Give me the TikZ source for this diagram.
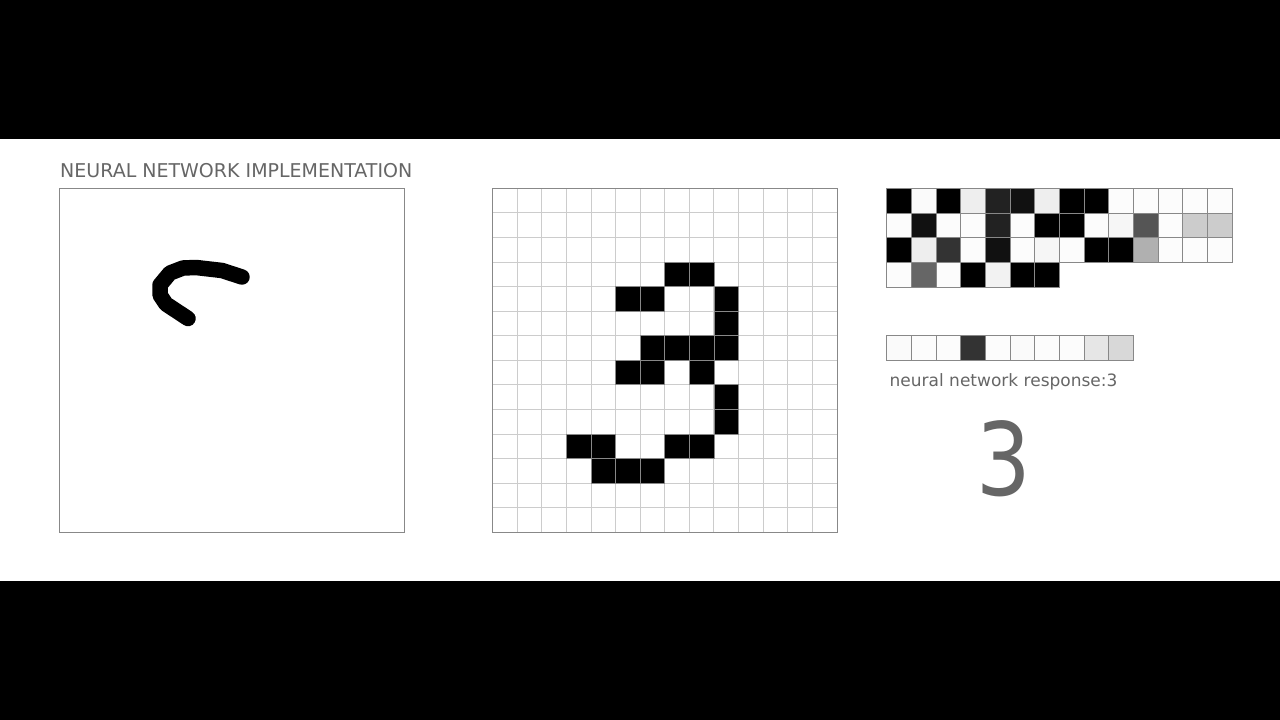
\documentclass[tikz,border=0pt]{standalone}
\usepackage{fontspec}
\setmainfont{DejaVu Sans}
\definecolor{txtgray}{HTML}{666666}
\definecolor{gridline}{HTML}{CCCCCC}
\definecolor{framegray}{HTML}{888888}
\begin{document}
\begin{tikzpicture}[x=1pt,y=-1pt,
  frame/.style={draw=framegray,line width=1pt},
  gline/.style={draw=gridline,line width=1pt},
  cellbox/.style={draw=framegray,line width=0.9pt},
  pen/.style={line width=15.5pt,line cap=round,line join=round},
  label/.style={text=txtgray,inner sep=0pt}]
\useasboundingbox (0,0) rectangle (1280,720);
% background
\fill[black] (0,0) rectangle (1280,720);
\fill[white] (0,139) rectangle (1280,581);
% title
\node[label,anchor=base west,font=\fontsize{19}{21}\selectfont] (title) at (60,177.3) {NEURAL NETWORK IMPLEMENTATION};
% drawing box
\draw[frame] (59.8,188.3) rectangle (404,532.3);
\draw[pen] (242,277) -- (222,270.5) -- (196,267.5) -- (183,268) -- (170,273) -- (160,285) -- (160,295) -- (166,304) -- (188,318.5);
% middle grid
\def\gs{24.5714}
\foreach \i in {1,...,13}{
  \draw[gline] ({492.8+\i*\gs},188.3) -- ({492.8+\i*\gs},532.3);
  \draw[gline] (492.8,{188.3+\i*\gs}) -- (837.2,{188.3+\i*\gs});
}
\foreach \r/\c in {3/7,3/8,4/5,4/6,4/9,5/9,6/6,6/7,6/8,6/9,7/5,7/6,7/8,8/9,9/9,10/3,10/4,10/7,10/8,11/4,11/5,11/6}{
  \filldraw[fill=black,draw=framegray,line width=0.8pt] ({492.8+\c*\gs},{188.3+\r*\gs}) rectangle ++(\gs,\gs);
}
\draw[frame] (492.8,188.3) rectangle (837.2,532.3);
% hidden layer grid
\def\hs{24.67}
\foreach \v [count=\k from 0] in {
  000000,FAFAFA,000000,EEEEEE,222222,111111,EEEEEE,000000,000000,FCFCFC,FCFCFC,FCFCFC,FCFCFC,FCFCFC,
  FCFCFC,111111,FCFCFC,FCFCFC,222222,FCFCFC,000000,000000,FCFCFC,F6F6F6,555555,FCFCFC,CCCCCC,CCCCCC,
  000000,EEEEEE,333333,FCFCFC,111111,FCFCFC,F6F6F6,FCFCFC,000000,000000,B0B0B0,FCFCFC,FCFCFC,FCFCFC,
  FCFCFC,666666,FCFCFC,000000,F2F2F2,000000,000000}{
  \pgfmathtruncatemacro{\rr}{int(\k/14)}
  \pgfmathtruncatemacro{\cc}{mod(\k,14)}
  \definecolor{cellc}{HTML}{\v}
  \filldraw[fill=cellc,cellbox] ({886.6+\cc*\hs},{188.3+\rr*\hs}) rectangle ++(\hs,\hs);
}
% output layer bar
\foreach \v [count=\k from 0] in {FAFAFA,FCFCFC,FCFCFC,333333,FCFCFC,FAFAFA,FCFCFC,FCFCFC,E6E6E6,D8D8D8}{
  \definecolor{cellc}{HTML}{\v}
  \filldraw[fill=cellc,cellbox] ({886.6+\k*\hs},335.5) rectangle ++(\hs,\hs);
}
\node[label,anchor=base west,font=\fontsize{17}{19}\selectfont] (resp) at (889.5,386.5) {neural network response:3};
\node[label,anchor=base,xscale=0.85,font=\fontsize{101}{110}\selectfont] (digit) at (1003.5,495.7) {3};
\end{tikzpicture}
\end{document}
